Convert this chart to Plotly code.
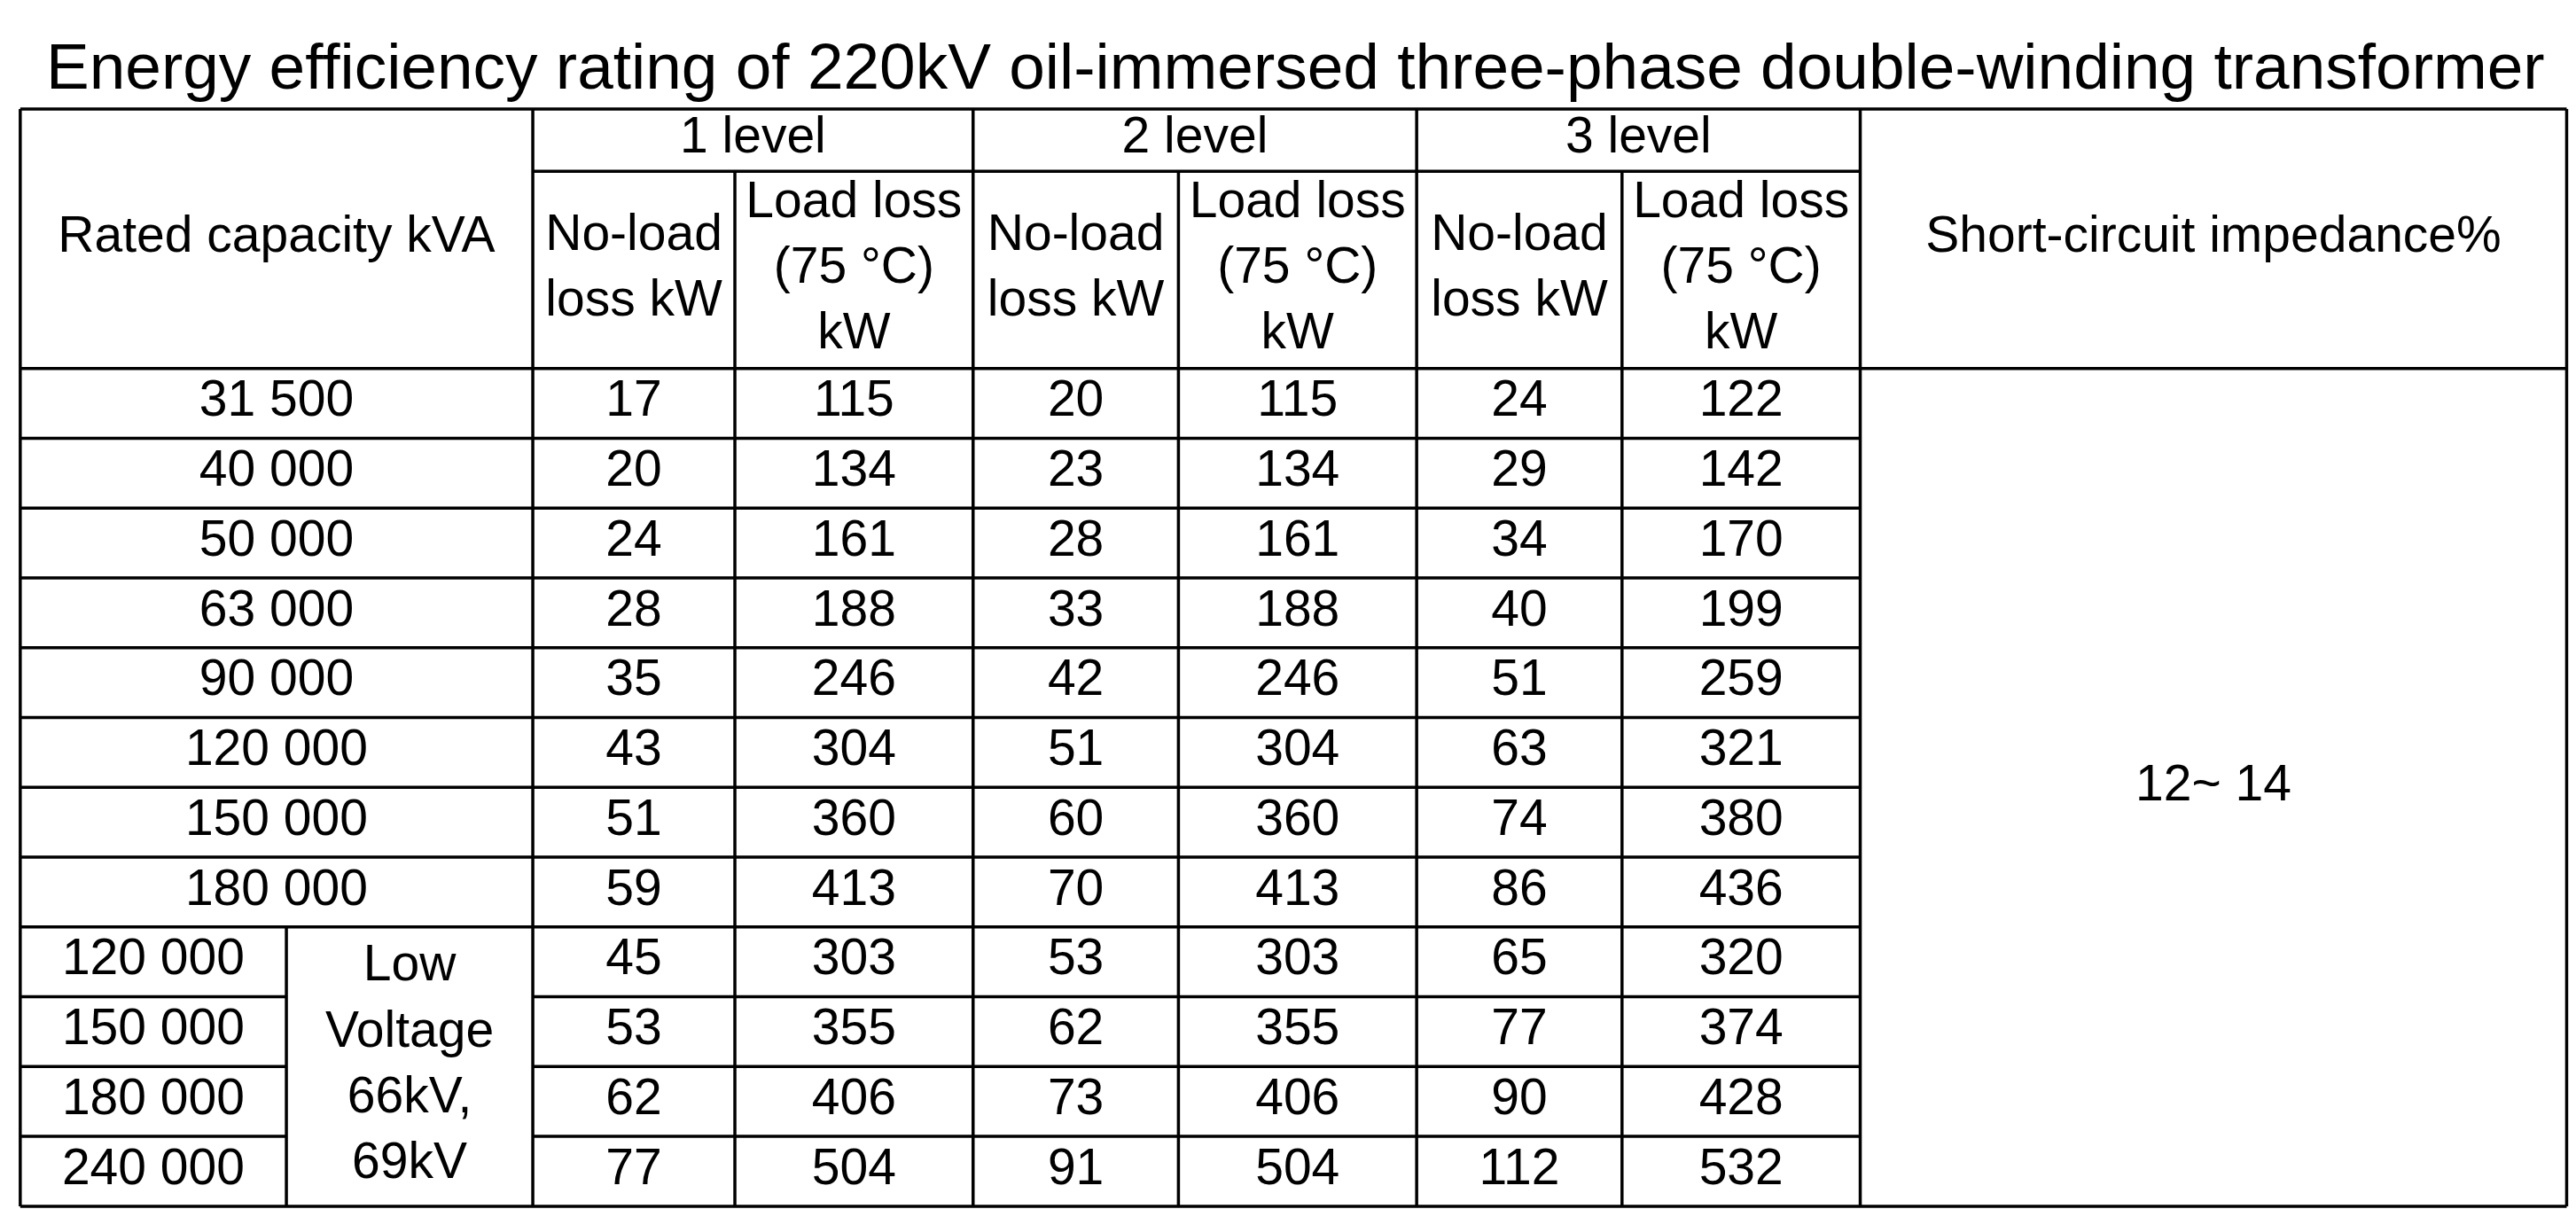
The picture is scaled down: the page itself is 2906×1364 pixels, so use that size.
import plotly.graph_objects as go

title = "Energy efficiency rating of 220kV oil-immersed three-phase double-winding transformer"
levels = ["1 level", "2 level", "3 level"]
sub_headers = ["No-load<br>loss kW", "Load loss<br>(75 °C)<br>kW"]
capacity_header = "Rated capacity kVA"
impedance_header = "Short-circuit impedance%"
impedance_value = "12~ 14"
capacities = ["31 500", "40 000", "50 000", "63 000", "90 000", "120 000", "150 000", "180 000",
              "120 000", "150 000", "180 000", "240 000"]
lv_note = "Low<br>Voltage<br>66kV,<br>69kV"
noload1 = [17, 20, 24, 28, 35, 43, 51, 59, 45, 53, 62, 77]
load1 = [115, 134, 161, 188, 246, 304, 360, 413, 303, 355, 406, 504]
noload2 = [20, 23, 28, 33, 42, 51, 60, 70, 53, 62, 73, 91]
load2 = [115, 134, 161, 188, 246, 304, 360, 413, 303, 355, 406, 504]
noload3 = [24, 29, 34, 40, 51, 63, 74, 86, 65, 77, 90, 112]
load3 = [122, 142, 170, 199, 259, 321, 380, 436, 320, 374, 428, 532]

# layout geometry (canvas units)
W, H = 1568, 736
xb = [8, 320, 443, 588, 713, 858, 983, 1128, 1558]
x_sub = 170
y_top, y_lvl, y_head = 62, 100, 220
y_bot = 730
n = len(capacities)
rh = (y_bot - y_head) / n
yr = [y_head + i * rh for i in range(n + 1)]
n_main = 8

lx, ly = [], []
def seg(x0, y0, x1, y1):
    lx.extend([x0, x1, None]); ly.extend([y0, y1, None])

seg(xb[0], y_top, xb[-1], y_top)
seg(xb[1], y_lvl, xb[7], y_lvl)
seg(xb[0], y_head, xb[-1], y_head)
seg(xb[0], y_bot, xb[-1], y_bot)
for i in range(1, n):
    if i > n_main:
        seg(xb[0], yr[i], x_sub, yr[i]); seg(xb[1], yr[i], xb[7], yr[i])
    else:
        seg(xb[0], yr[i], xb[7], yr[i])
for j, x in enumerate(xb):
    top = y_lvl if j in (2, 4, 6) else y_top
    seg(x, top, x, y_bot)
seg(x_sub, yr[n_main], x_sub, y_bot)

fig = go.Figure()
fig.add_trace(go.Scatter(x=lx, y=ly, mode="lines", line=dict(color="black", width=3.5),
                         hoverinfo="skip", showlegend=False))

tx, ty, tt = [], [], []
def txt(x, y, s):
    tx.append(x); ty.append(y); tt.append(s)

txt((xb[0] + xb[1]) / 2, (y_top + y_head) / 2, capacity_header)
txt((xb[7] + xb[8]) / 2, (y_top + y_head) / 2, impedance_header)
for k, lv in enumerate(levels):
    xa, xm, xc = xb[1 + 2 * k], xb[2 + 2 * k], xb[3 + 2 * k]
    txt((xa + xc) / 2, (y_top + y_lvl) / 2, lv)
    txt((xa + xm) / 2, (y_lvl + y_head) / 2, sub_headers[0])
    txt((xm + xc) / 2, (y_lvl + y_head) / 2, sub_headers[1])
cols = [noload1, load1, noload2, load2, noload3, load3]
for i in range(n):
    yc = (yr[i] + yr[i + 1]) / 2
    if i < n_main:
        txt((xb[0] + xb[1]) / 2, yc, capacities[i])
    else:
        txt((xb[0] + x_sub) / 2, yc, capacities[i])
    for c, col in enumerate(cols):
        txt((xb[1 + c] + xb[2 + c]) / 2, yc, str(col[i]))
txt((x_sub + xb[1]) / 2, (yr[n_main] + y_bot) / 2, lv_note)
txt((xb[7] + xb[8]) / 2, (y_head + y_bot) / 2, impedance_value)

fig.add_trace(go.Scatter(x=tx, y=ty, text=tt, mode="text", textposition="middle center",
                         textfont=dict(family="Liberation Sans", size=57, color="black"),
                         hoverinfo="skip", showlegend=False))
fig.add_annotation(x=W / 2, y=36, text=title, showarrow=False, xref="x", yref="y",
                   font=dict(family="Liberation Sans", size=73, color="black"))

fig.update_layout(width=2906, height=1364, margin=dict(l=0, r=0, t=0, b=0),
                  plot_bgcolor="white", paper_bgcolor="white",
                  xaxis=dict(range=[0, W], visible=False, fixedrange=True),
                  yaxis=dict(range=[H, 0], visible=False, fixedrange=True))
fig.write_html("out.html")
